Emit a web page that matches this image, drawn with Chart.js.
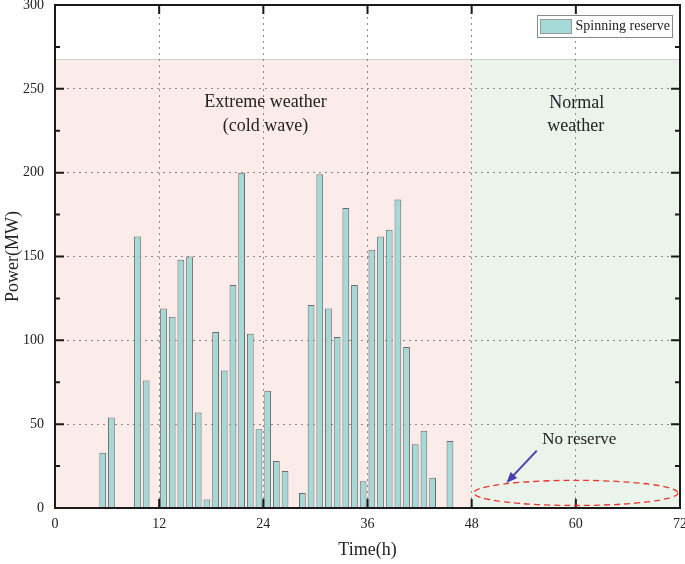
<!DOCTYPE html>
<html>
<head>
<meta charset="utf-8">
<script src="https://cdn.jsdelivr.net/npm/chart.js@4"></script>
<style>
  body { margin: 0; background: #fff; }
  #wrap { width: 685px; height: 564px; }
</style>
</head>
<body>
<div id="wrap"><canvas id="reserveChart" width="685" height="564"></canvas></div>
<script>
// spinning reserve per hour (hour 1..72), MW
const reserve = [
  0, 0, 0, 0, 0, 33, 54, 0, 0, 162, 76, 0,
  119, 114, 148, 150, 57, 5, 105, 82, 133, 200, 104, 47,
  70, 28, 22, 0, 9, 121, 199, 119, 102, 179, 133, 16,
  154, 162, 166, 184, 96, 38, 46, 18, 0, 40, 0, 0,
  0, 0, 0, 0, 0, 0, 0, 0, 0, 0, 0, 0,
  0, 0, 0, 0, 0, 0, 0, 0, 0, 0, 0, 0
];
const xTicks = [0, 12, 24, 36, 48, 60, 72];
const yTicks = [0, 50, 100, 150, 200, 250, 300];
const periodRange = [[0, 48], [48, 72]];
const shadeTop = 267.5;

const serif = "'Liberation Serif', 'Times New Roman', serif";

// bar centred in its hour slot, empty hours left out
const barData = [];
reserve.forEach((v, i) => {
  if (v > 0) barData.push({ x: i + 0.5, y: v });
});

const backgroundPlugin = {
  id: "periodShade",
  beforeDraw(chart) {
    const { ctx, scales: { x, y } } = chart;
    const top = y.getPixelForValue(shadeTop);
    const bottom = y.getPixelForValue(0);
    const colors = ["#fbecea", "#eaf4eb"];
    ctx.save();
    periodRange.forEach((r, i) => {
      const l = x.getPixelForValue(r[0]);
      const rr = x.getPixelForValue(r[1]);
      ctx.fillStyle = colors[i];
      ctx.fillRect(l, top, rr - l, bottom - top);
    });
    ctx.strokeStyle = "#cfcfcf";
    ctx.lineWidth = 1;
    ctx.beginPath();
    ctx.moveTo(x.left, Math.round(top) + 0.5);
    ctx.lineTo(x.right, Math.round(top) + 0.5);
    ctx.stroke();
    ctx.restore();
  },
};

const decorPlugin = {
  id: "decor",
  afterDatasetsDraw(chart) {
    const { ctx, chartArea: a, scales: { x, y } } = chart;
    ctx.save();

    // frame
    ctx.strokeStyle = "#1a1a1a";
    ctx.lineWidth = 2;
    ctx.strokeRect(a.left, a.top, a.right - a.left, a.bottom - a.top);

    // inward ticks
    ctx.lineWidth = 2;
    ctx.beginPath();
    xTicks.forEach((t) => {
      const px = x.getPixelForValue(t);
      ctx.moveTo(px, a.bottom); ctx.lineTo(px, a.bottom - 9);
      ctx.moveTo(px, a.top); ctx.lineTo(px, a.top + 9);
    });
    for (let v = 25; v < 300; v += 25) {
      const py = y.getPixelForValue(v);
      const len = v % 50 === 0 ? 9 : 5;
      ctx.moveTo(a.left, py); ctx.lineTo(a.left + len, py);
      ctx.moveTo(a.right, py); ctx.lineTo(a.right - len, py);
    }
    ctx.stroke();

    // period labels
    ctx.fillStyle = "#222";
    ctx.font = "18px " + serif;
    ctx.textAlign = "center";
    ctx.textBaseline = "middle";
    ctx.fillText("Extreme weather", x.getPixelForValue(24.25), y.getPixelForValue(242));
    ctx.fillText("(cold wave)", x.getPixelForValue(24.25), y.getPixelForValue(227.5));
    ctx.fillText("Normal", x.getPixelForValue(60.1), y.getPixelForValue(241.5));
    ctx.fillText("weather", x.getPixelForValue(60.0), y.getPixelForValue(227.5));

    // no reserve note
    ctx.font = "17px " + serif;
    ctx.fillText("No reserve", x.getPixelForValue(60.4), y.getPixelForValue(41));

    // dashed ellipse
    const cx = x.getPixelForValue(60);
    const cy = y.getPixelForValue(9);
    const rx = x.getPixelForValue(71.75) - cx;
    const ry = cy - y.getPixelForValue(16.5);
    ctx.strokeStyle = "#e8352c";
    ctx.lineWidth = 1.3;
    ctx.setLineDash([6, 4]);
    ctx.beginPath();
    ctx.ellipse(cx, cy, rx, ry, 0, 0, Math.PI * 2);
    ctx.stroke();
    ctx.setLineDash([]);

    // arrow
    const x0 = x.getPixelForValue(55.5), y0 = y.getPixelForValue(34.2);
    const x1 = x.getPixelForValue(52.0), y1 = y.getPixelForValue(14.9);
    const ang = Math.atan2(y1 - y0, x1 - x0);
    ctx.strokeStyle = "#4a3eb0";
    ctx.fillStyle = "#4a3eb0";
    ctx.lineWidth = 2;
    ctx.beginPath();
    ctx.moveTo(x0, y0);
    ctx.lineTo(x1 - 8 * Math.cos(ang), y1 - 8 * Math.sin(ang));
    ctx.stroke();
    ctx.beginPath();
    ctx.moveTo(x1, y1);
    ctx.lineTo(x1 - 11 * Math.cos(ang) + 4.5 * Math.sin(ang), y1 - 11 * Math.sin(ang) - 4.5 * Math.cos(ang));
    ctx.lineTo(x1 - 11 * Math.cos(ang) - 4.5 * Math.sin(ang), y1 - 11 * Math.sin(ang) + 4.5 * Math.cos(ang));
    ctx.closePath();
    ctx.fill();

    // legend box
    const ds = chart.data.datasets[0];
    const lx = 537, ly = 15, lw = 135, lh = 22;
    ctx.fillStyle = "#fff";
    ctx.fillRect(lx, ly, lw, lh);
    ctx.strokeStyle = "#888";
    ctx.lineWidth = 1;
    ctx.strokeRect(lx + 0.5, ly + 0.5, lw, lh);
    ctx.fillStyle = ds.backgroundColor;
    ctx.fillRect(lx + 3.5, ly + 4, 31, 14);
    ctx.strokeStyle = "#999";
    ctx.strokeRect(lx + 3.5, ly + 4.5, 31, 14);
    ctx.fillStyle = "#222";
    ctx.font = "14px " + serif;
    ctx.textAlign = "left";
    ctx.fillText(ds.label, lx + 38.5, ly + 11.5);

    ctx.restore();
  },
};

new Chart(document.getElementById("reserveChart"), {
  type: "bar",
  data: {
    datasets: [
      {
        label: "Spinning reserve",
        data: barData,
        backgroundColor: "#a4d9d8",
        borderColor: "#6a6a6a",
        borderWidth: 1,
        barPercentage: 0.78,
        categoryPercentage: 1,
      },
    ],
  },
  options: {
    responsive: false,
    animation: false,
    layout: { padding: { top: 5, right: 5 } },
    plugins: {
      legend: { display: false },
      tooltip: { enabled: false },
    },
    scales: {
      x: {
        type: "linear",
        offset: false,
        min: 0,
        max: 72,
        afterBuildTicks: (s) => { s.ticks = xTicks.map((v) => ({ value: v })); },
        afterFit: (s) => { s.height = 56; s.paddingLeft = 0; s.paddingRight = 0; },
        ticks: { color: "#222", font: { family: serif, size: 14 }, padding: 8, maxRotation: 0 },
        grid: { color: "#8a8a8a", lineWidth: 1, drawTicks: false, offset: false },
        border: { display: false, dash: [2, 4] },
        title: {
          display: true,
          text: "Time(h)",
          color: "#222",
          font: { family: serif, size: 18 },
          padding: { top: 0, bottom: 3 },
        },
      },
      y: {
        min: 0,
        max: 300,
        afterBuildTicks: (s) => { s.ticks = yTicks.map((v) => ({ value: v })); },
        afterFit: (s) => { s.width = 55; s.paddingTop = 0; s.paddingBottom = 0; },
        ticks: { color: "#222", font: { family: serif, size: 14 }, padding: 11 },
        grid: { color: "#8a8a8a", lineWidth: 1, drawTicks: false },
        border: { display: false, dash: [2, 4] },
        title: {
          display: true,
          text: "Power(MW)",
          color: "#222",
          font: { family: serif, size: 18 },
          padding: { top: 2, bottom: 0 },
        },
      },
    },
  },
  plugins: [backgroundPlugin, decorPlugin],
});
</script>
</body>
</html>
